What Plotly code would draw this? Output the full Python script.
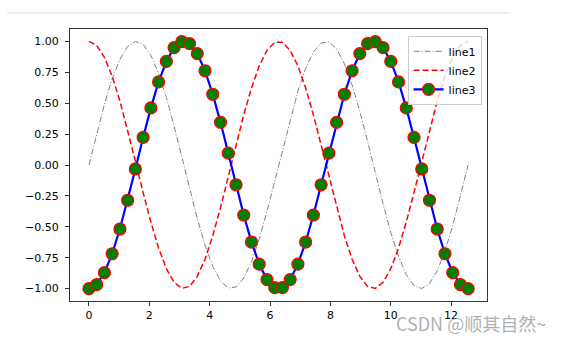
import plotly.graph_objects as go

x = [0.000, 0.256, 0.513, 0.769, 1.026, 1.282, 1.539, 1.795, 2.052, 2.308,
     2.565, 2.821, 3.078, 3.334, 3.590, 3.847, 4.103, 4.360, 4.616, 4.873,
     5.129, 5.386, 5.642, 5.899, 6.155, 6.412, 6.668, 6.924, 7.181, 7.437,
     7.694, 7.950, 8.207, 8.463, 8.720, 8.976, 9.233, 9.489, 9.746, 10.002,
     10.259, 10.515, 10.771, 11.028, 11.284, 11.541, 11.797, 12.054, 12.310, 12.566]

line1 = [0.0, 0.254, 0.491, 0.696, 0.855, 0.959, 0.999, 0.975, 0.887, 0.740,
         0.546, 0.315, 0.064, -0.191, -0.434, -0.648, -0.820, -0.939, -0.995, -0.987,
         -0.914, -0.782, -0.598, -0.375, -0.128, 0.128, 0.375, 0.598, 0.782, 0.914,
         0.987, 0.995, 0.939, 0.820, 0.648, 0.434, 0.191, -0.064, -0.315, -0.546,
         -0.740, -0.887, -0.975, -0.999, -0.959, -0.855, -0.696, -0.491, -0.254, 0.0]

line2 = [1.0, 0.967, 0.871, 0.718, 0.518, 0.285, 0.032, -0.223, -0.462, -0.672,
         -0.838, -0.949, -0.998, -0.982, -0.901, -0.762, -0.572, -0.345, -0.096, 0.160,
         0.405, 0.623, 0.802, 0.927, 0.992, 0.992, 0.927, 0.802, 0.623, 0.405,
         0.160, -0.096, -0.345, -0.572, -0.762, -0.901, -0.982, -0.998, -0.949, -0.838,
         -0.672, -0.462, -0.223, 0.032, 0.285, 0.518, 0.718, 0.871, 0.967, 1.0]

line3 = [-1.0, -0.967, -0.871, -0.718, -0.518, -0.285, -0.032, 0.223, 0.462, 0.672,
         0.838, 0.949, 0.998, 0.982, 0.901, 0.762, 0.572, 0.345, 0.096, -0.160,
         -0.405, -0.623, -0.802, -0.927, -0.992, -0.992, -0.927, -0.802, -0.623, -0.405,
         -0.160, 0.096, 0.345, 0.572, 0.762, 0.901, 0.982, 0.998, 0.949, 0.838,
         0.672, 0.462, 0.223, -0.032, -0.285, -0.518, -0.718, -0.871, -0.967, -1.0]

x_ticks = [0, 2, 4, 6, 8, 10, 12]
y_ticks = [-1.00, -0.75, -0.50, -0.25, 0.00, 0.25, 0.50, 0.75, 1.00]
y_tick_labels = ["\u22121.00", "\u22120.75", "\u22120.50", "\u22120.25", "0.00", "0.25", "0.50", "0.75", "1.00"]
watermark = "CSDN @顺其自然~"

fig = go.Figure()
fig.add_trace(go.Scatter(x=x, y=line1, mode="lines", name="line1",
                         line=dict(color="gray", width=1, dash="6px,2px,1px,2px")))
fig.add_trace(go.Scatter(x=x, y=line2, mode="lines", name="line2",
                         line=dict(color="red", width=1.5, dash="6px,3px")))
fig.add_trace(go.Scatter(x=x, y=line3, mode="lines+markers", name="line3",
                         line=dict(color="blue", width=2.2),
                         marker=dict(size=12, color="green",
                                     line=dict(color="red", width=1.2))))

axis_common = dict(showline=True, mirror=True, linecolor="#333333", linewidth=1,
                   ticks="outside", ticklen=4, tickwidth=1, tickcolor="#333333",
                   showgrid=False, zeroline=False,
                   tickfont=dict(family="DejaVu Sans", size=11, color="black"))

fig.update_xaxes(range=[-0.628, 13.19], tickvals=x_ticks, **axis_common)
fig.update_yaxes(range=[-1.1, 1.1], tickvals=y_ticks, ticktext=y_tick_labels,
                 ticklabelstandoff=4, **axis_common)

fig.update_layout(
    width=562, height=340,
    margin=dict(l=70, r=75, t=29, b=39),
    paper_bgcolor="white", plot_bgcolor="white",
    showlegend=True,
    legend=dict(x=0.987, y=0.975, xanchor="right", yanchor="top",
                bgcolor="rgba(255,255,255,0.8)", bordercolor="#cccccc", borderwidth=1,
                font=dict(family="DejaVu Sans", size=11, color="black"),
                tracegroupgap=0, itemwidth=30),
    shapes=[dict(type="line", xref="paper", yref="paper",
                 x0=-0.151, x1=1.055, y0=1.059, y1=1.059,
                 line=dict(color="#dddddd", width=1))],
    annotations=[dict(text=watermark, xref="paper", yref="paper",
                      x=1.146, y=-0.08, xanchor="right", yanchor="middle",
                      showarrow=False,
                      font=dict(family="Noto Sans CJK SC", size=18,
                                color="rgba(140,140,140,0.7)"))],
)

fig.write_html("out.html")
